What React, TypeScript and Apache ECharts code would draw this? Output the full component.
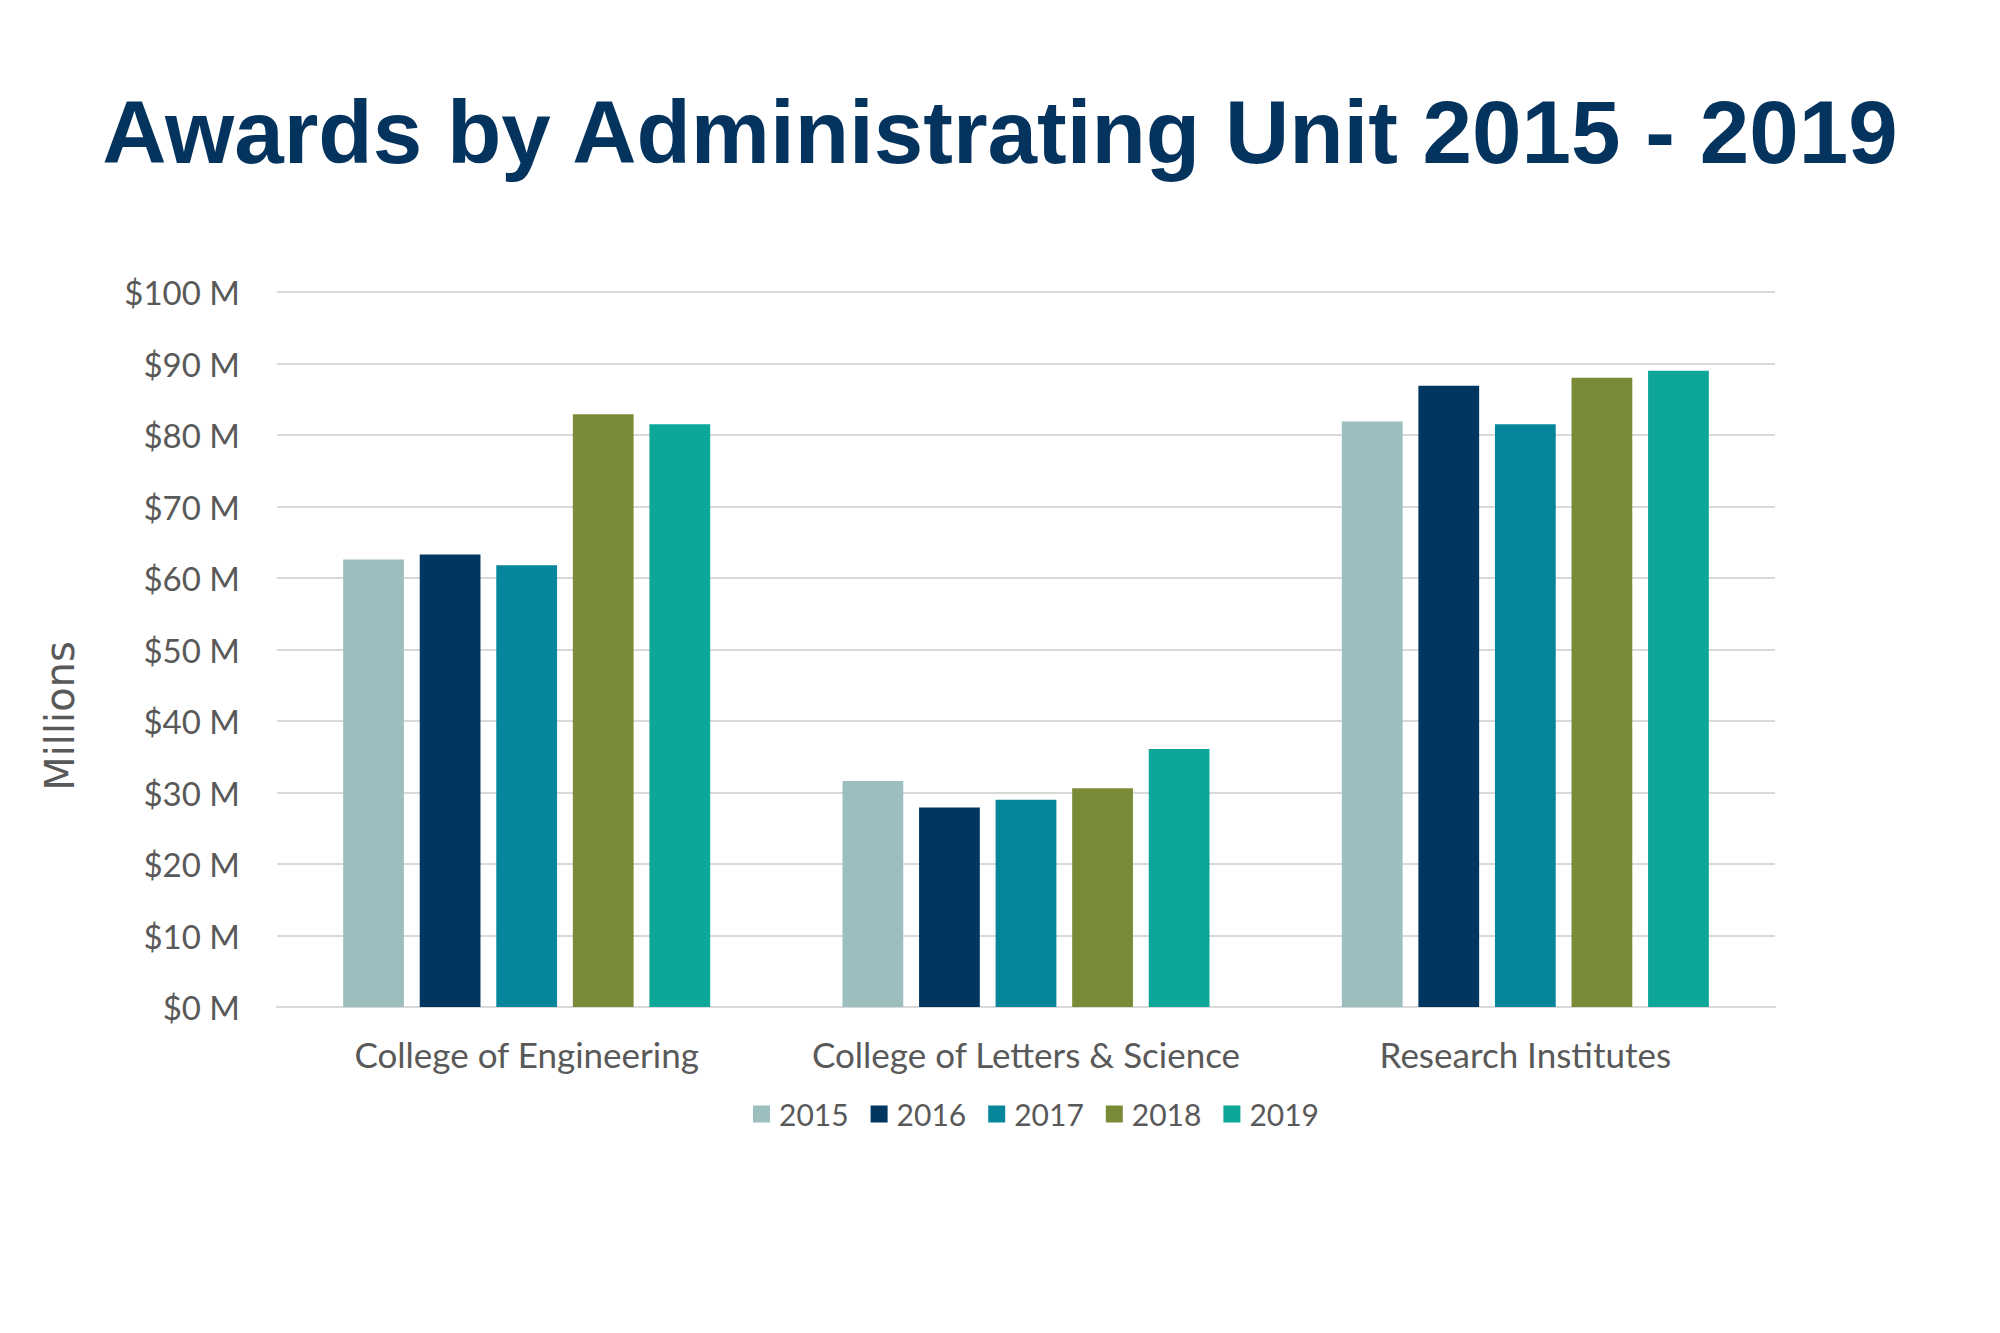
import React, { useEffect, useRef } from 'react'
import * as echarts from 'echarts'

// categories and yearly award totals (in $ millions)
const units = ['College of Engineering', 'College of Letters & Science', 'Research Institutes']
const years = ['2015', '2016', '2017', '2018', '2019']
const awards2015 = [62.6, 31.6, 81.9]
const awards2016 = [63.3, 27.9, 86.9]
const awards2017 = [61.8, 29.0, 81.5]
const awards2018 = [82.9, 30.6, 88.0]
const awards2019 = [81.5, 36.1, 89.0]
const yearValues = [awards2015, awards2016, awards2017, awards2018, awards2019]

const colors = ['#9dbebf', '#00365f', '#05869b', '#7a8b37', '#0ca798']
const labelColor = '#595959'

export default function App() {
  const chartRef = useRef<HTMLDivElement>(null)

  useEffect(() => {
    if (!chartRef.current) return
    const chart = echarts.init(chartRef.current, null, { renderer: 'svg' })

    const series = years.map((year, i) => ({
      name: year,
      type: 'bar',
      data: yearValues[i],
      barGap: '26%',
      barCategoryGap: '26.5%',
      itemStyle: { color: colors[i] }
    }))

    chart.setOption({
      animation: false,
      backgroundColor: '#ffffff',
      title: {
        text: 'Awards by Administrating Unit 2015 - 2019',
        left: 'center',
        top: 82,
        textStyle: {
          fontFamily: 'Liberation Sans',
          fontWeight: 'bold',
          fontSize: 89,
          color: '#04335e'
        }
      },
      legend: {
        data: years,
        left: 748,
        top: 1094,
        icon: 'rect',
        itemWidth: 17,
        itemHeight: 17,
        itemGap: 22,
        textStyle: {
          fontFamily: 'Lato',
          fontSize: 30,
          color: labelColor,
          padding: [0, 0, 0, 4]
        }
      },
      grid: {
        left: 277,
        right: 225,
        top: 292,
        bottom: 326,
        containLabel: false
      },
      xAxis: {
        type: 'category',
        data: units,
        axisTick: { show: false },
        axisLine: { lineStyle: { color: '#d9d9d9', width: 2 } },
        axisLabel: {
          interval: 0,
          margin: 29,
          fontFamily: 'Lato',
          fontSize: 35,
          color: labelColor
        }
      },
      yAxis: {
        type: 'value',
        min: 0,
        max: 100,
        interval: 10,
        axisLine: { show: false },
        axisTick: { show: false },
        splitLine: { lineStyle: { color: '#d9d9d9', width: 2 } },
        axisLabel: {
          margin: 37,
          fontFamily: 'Lato',
          fontSize: 33,
          color: labelColor,
          formatter: (v: number) => `$${v} M`
        }
      },
      graphic: [
        {
          type: 'text',
          x: 60,
          y: 716,
          rotation: Math.PI / 2,
          style: {
            text: 'Millions',
            fontFamily: 'DejaVu Sans',
            fontSize: 40,
            fill: labelColor,
            align: 'center',
            verticalAlign: 'middle'
          }
        }
      ],
      series
    })

    return () => {
      chart.dispose()
    }
  }, [])

  return (
    <div
      ref={chartRef}
      style={{ position: 'absolute', left: 0, top: 0, width: 2000, height: 1333, background: '#fff' }}
    />
  )
}
